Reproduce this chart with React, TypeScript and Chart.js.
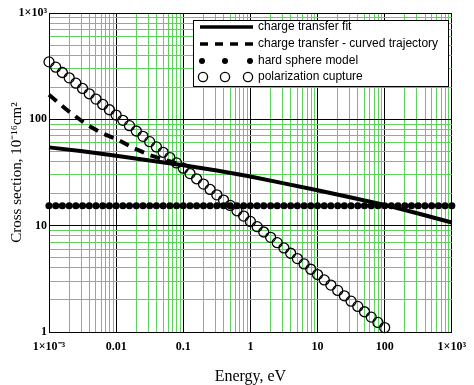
import React, { useEffect, useRef } from "react";
import { Chart, registerables } from "chart.js";

Chart.register(...registerables);

// ---- tick labels ----
const xTickValues = [0.001, 0.01, 0.1, 1, 10, 100, 1000];
const xTickLabels = ["1×10⁻³", "0.01", "0.1", "1", "10", "100", "1×10³"];
const yTickValues = [1, 10, 100, 1000];
const yTickLabels = ["1", "10", "100", "1×10³"];

// ---- series: charge transfer fit ----
const ctfEnergy = [0.001, 0.00316, 0.01, 0.0316, 0.1, 0.316, 1, 3.16, 10, 31.6, 100, 316, 1000];
const ctfSigma = [54.5, 50, 45.5, 41, 37, 33, 29, 25, 21.5, 18.4, 15.7, 13, 10.7];

// ---- series: charge transfer - curved trajectory ----
const ctcEnergy = [0.001, 0.00178, 0.00352, 0.00607, 0.0108, 0.018, 0.031, 0.0535, 0.1];
const ctcSigma = [170, 125, 90.5, 74.5, 64, 53.8, 46.3, 41.5, 37];

// ---- series: hard sphere model ----
const hsEnergy = [
  0.001, 0.00126, 0.00158, 0.002, 0.00251, 0.00316, 0.00398, 0.00501, 0.00631, 0.00794,
  0.01, 0.0126, 0.0158, 0.02, 0.0251, 0.0316, 0.0398, 0.0501, 0.0631, 0.0794,
  0.1, 0.126, 0.158, 0.2, 0.251, 0.316, 0.398, 0.501, 0.631, 0.794,
  1, 1.26, 1.58, 2, 2.51, 3.16, 3.98, 5.01, 6.31, 7.94,
  10, 12.6, 15.8, 20, 25.1, 31.6, 39.8, 50.1, 63.1, 79.4,
  100, 126, 158, 200, 251, 316, 398, 501, 631, 794, 1000,
];
const hsSigma = [
  15.4, 15.4, 15.4, 15.4, 15.4, 15.4, 15.4, 15.4, 15.4, 15.4,
  15.4, 15.4, 15.4, 15.4, 15.4, 15.4, 15.4, 15.4, 15.4, 15.4,
  15.4, 15.4, 15.4, 15.4, 15.4, 15.4, 15.4, 15.4, 15.4, 15.4,
  15.4, 15.4, 15.4, 15.4, 15.4, 15.4, 15.4, 15.4, 15.4, 15.4,
  15.4, 15.4, 15.4, 15.4, 15.4, 15.4, 15.4, 15.4, 15.4, 15.4,
  15.4, 15.4, 15.4, 15.4, 15.4, 15.4, 15.4, 15.4, 15.4, 15.4, 15.4,
];

// ---- series: polarization capture ----
const pcEnergy = [
  0.001, 0.00126, 0.00158, 0.002, 0.00251, 0.00316, 0.00398, 0.00501, 0.00631, 0.00794,
  0.01, 0.0126, 0.0158, 0.02, 0.0251, 0.0316, 0.0398, 0.0501, 0.0631, 0.0794,
  0.1, 0.126, 0.158, 0.2, 0.251, 0.316, 0.398, 0.501, 0.631, 0.794,
  1, 1.26, 1.58, 2, 2.51, 3.16, 3.98, 5.01, 6.31, 7.94,
  10, 12.6, 15.8, 20, 25.1, 31.6, 39.8, 50.1, 63.1, 79.4, 100,
];
const pcSigma = [
  347, 309.3, 275.6, 245.6, 218.9, 195.1, 173.9, 155, 138.2, 123.1,
  109.7, 97.8, 87.2, 77.7, 69.2, 61.7, 55, 49, 43.7, 38.9,
  34.7, 30.9, 27.6, 24.6, 21.9, 19.5, 17.4, 15.5, 13.8, 12.3,
  10.97, 9.78, 8.72, 7.77, 6.92, 6.17, 5.5, 4.9, 4.37, 3.89,
  3.47, 3.09, 2.76, 2.46, 2.19, 1.95, 1.74, 1.55, 1.38, 1.23, 1.1,
];

const seriesLabels = [
  "charge transfer fit",
  "charge transfer - curved trajectory",
  "hard sphere model",
  "polarization cupture",
];

const GREEN = "rgb(92, 210, 92)";
const SERIF = "'Liberation Serif', 'Times New Roman', serif";
const SANS = "'Liberation Sans', Arial, sans-serif";

function pts(xs: number[], ys: number[]) {
  return xs.map((x, i) => ({ x, y: ys[i] }));
}

function isDecade(v: number | undefined) {
  if (v === undefined || v === null) return false;
  const l = Math.log10(v);
  return Math.abs(l - Math.round(l)) < 1e-9;
}

function logTicks(minExp: number, maxExp: number) {
  const t: { value: number; major: boolean }[] = [];
  for (let e = minExp; e < maxExp; e++) {
    for (let m = 1; m <= 9; m++) {
      t.push({ value: m * Math.pow(10, e), major: m === 1 });
    }
  }
  t.push({ value: Math.pow(10, maxExp), major: true });
  return t;
}

function lookup(vals: number[], labels: string[], v: number) {
  const i = vals.findIndex((t) => Math.abs(Math.log10(t) - Math.log10(v)) < 1e-6);
  return i >= 0 ? labels[i] : "";
}

export default function App() {
  const ref = useRef<HTMLCanvasElement>(null);

  useEffect(() => {
    document.body.style.margin = "0";
    const legendPlugin = {
      id: "boxLegend",
      afterDatasetsDraw(chart: any) {
        const ctx = chart.ctx as CanvasRenderingContext2D;
        ctx.save();
        const left = 193, top = 20, right = 448, bottom = 86;
        ctx.fillStyle = "#fff";
        ctx.fillRect(left, top, right - left, bottom - top);
        ctx.strokeStyle = "#000";
        ctx.lineWidth = 1;
        ctx.strokeRect(left + 0.5, top + 0.5, right - left, bottom - top);
        const rowY = [27, 44, 61, 77];
        const sx0 = 200, sx1 = 253;
        ctx.lineWidth = 3.5;
        ctx.setLineDash([]);
        ctx.beginPath();
        ctx.moveTo(sx0, rowY[0]);
        ctx.lineTo(sx1, rowY[0]);
        ctx.stroke();
        ctx.setLineDash([8, 7]);
        ctx.beginPath();
        ctx.moveTo(sx0, rowY[1]);
        ctx.lineTo(sx1, rowY[1]);
        ctx.stroke();
        ctx.setLineDash([]);
        ctx.fillStyle = "#000";
        [202, 225, 250].forEach((x) => {
          ctx.beginPath();
          ctx.arc(x, rowY[2], 3, 0, Math.PI * 2);
          ctx.fill();
        });
        ctx.lineWidth = 1.3;
        [203, 225, 248].forEach((x) => {
          ctx.beginPath();
          ctx.arc(x, rowY[3], 4.6, 0, Math.PI * 2);
          ctx.stroke();
        });
        ctx.fillStyle = "#000";
        ctx.font = `12px ${SANS}`;
        ctx.textBaseline = "middle";
        ctx.textAlign = "left";
        seriesLabels.forEach((s, i) => ctx.fillText(s, 258, rowY[i]));
        ctx.restore();
      },
    };

    const chart = new Chart(ref.current as HTMLCanvasElement, {
      type: "scatter",
      data: {
        datasets: [
          {
            label: seriesLabels[0],
            data: pts(ctfEnergy, ctfSigma),
            showLine: true,
            borderColor: "#000",
            borderWidth: 4,
            pointRadius: 0,
            clip: false,
          },
          {
            label: seriesLabels[1],
            data: pts(ctcEnergy, ctcSigma),
            showLine: true,
            borderColor: "#000",
            borderWidth: 4,
            borderDash: [10, 7],
            pointRadius: 0,
            clip: false,
          },
          {
            label: seriesLabels[2],
            data: pts(hsEnergy, hsSigma),
            showLine: false,
            pointRadius: 3.6,
            pointBackgroundColor: "#000",
            pointBorderColor: "#000",
            pointBorderWidth: 0,
            clip: false,
          },
          {
            label: seriesLabels[3],
            data: pts(pcEnergy, pcSigma),
            showLine: false,
            pointRadius: 5,
            pointBackgroundColor: "rgba(0,0,0,0)",
            pointBorderColor: "#000",
            pointBorderWidth: 1.3,
            clip: false,
          },
        ],
      } as any,
      options: {
        responsive: false,
        animation: false,
        devicePixelRatio: 1,
        layout: { padding: { top: 13, right: 19, left: 0, bottom: 0 } },
        plugins: {
          legend: { display: false },
          tooltip: { enabled: false },
        },
        scales: {
          x: {
            type: "logarithmic",
            position: "bottom",
            min: 0.001,
            max: 1000,
            afterBuildTicks: (s: any) => {
              s.ticks = logTicks(-3, 3);
            },
            afterFit: (s: any) => {
              s.height = 53;
            },
            grid: {
              color: (c: any) => (isDecade(c.tick?.value) ? "#000" : GREEN),
              lineWidth: 1,
              drawTicks: false,
            },
            border: { display: true, color: "#000", width: 1 },
            ticks: {
              autoSkip: false,
              maxRotation: 0,
              padding: 8,
              color: "#000",
              font: { family: SERIF, size: 12, weight: "bold" },
              callback: (v: any) => lookup(xTickValues, xTickLabels, Number(v)),
            },
            title: {
              display: true,
              text: "Energy, eV",
              color: "#000",
              font: { family: SERIF, size: 16, lineHeight: 1 },
              padding: { top: 0, bottom: 0 },
            },
          },
          y: {
            type: "logarithmic",
            position: "left",
            min: 1,
            max: 1000,
            afterBuildTicks: (s: any) => {
              s.ticks = logTicks(0, 3);
            },
            afterFit: (s: any) => {
              s.width = 49;
            },
            grid: {
              color: (c: any) => (isDecade(c.tick?.value) ? "#000" : GREEN),
              lineWidth: 1,
              drawTicks: false,
            },
            border: { display: true, color: "#000", width: 1 },
            ticks: {
              autoSkip: false,
              padding: 2,
              color: "#000",
              font: { family: SERIF, size: 12, weight: "bold" },
              callback: (v: any) => lookup(yTickValues, yTickLabels, Number(v)),
            },
            title: {
              display: true,
              text: "Cross section, 10⁻¹⁶cm²",
              color: "#000",
              font: { family: SERIF, size: 15, lineHeight: 1 },
              padding: { top: 9.5, bottom: 0 },
            },
          },
        },
      } as any,
      plugins: [legendPlugin],
    });
    return () => chart.destroy();
  }, []);

  return (
    <canvas
      ref={ref}
      width={474}
      height={385}
      style={{ display: "block", width: 474, height: 385 }}
    />
  );
}
